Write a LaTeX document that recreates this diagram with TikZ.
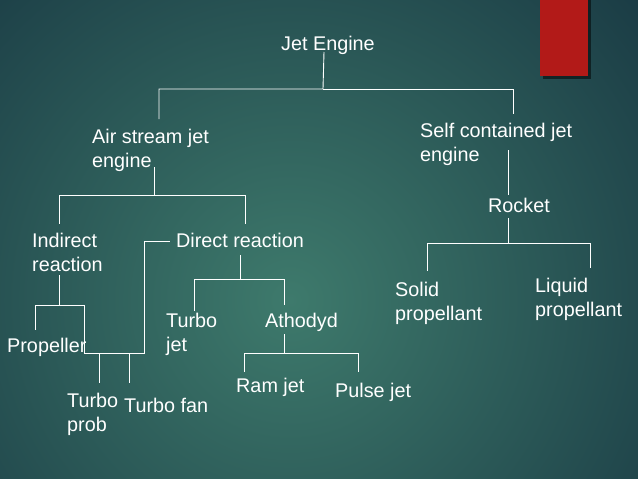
\documentclass[tikz,border=0pt]{standalone}
\usepackage{fontspec}
\setmainfont{Liberation Sans}
\definecolor{bgin}{RGB}{62,122,108}
\definecolor{bgout}{RGB}{22,52,64}
\definecolor{redbar}{RGB}{178,26,24}
\begin{document}
\begin{tikzpicture}[x=1pt,y=-1pt,
  lbl/.style={text=white,font=\fontsize{19.8}{24}\selectfont,inner sep=0pt,align=left,anchor=base west},
  conn/.style={draw=white,line width=0.9pt}]
\useasboundingbox (0,0) rectangle (638,479);
\begin{scope}
\clip (0,0) rectangle (638,479);
\shade[inner color=bgin,outer color=bgout] (290,300) circle (520);
\end{scope}
\fill[black,opacity=0.5] (543,0) rectangle (591,79);
\fill[redbar] (540,0) rectangle (588,76);
% labels
\node[lbl,anchor=base] (je) at (328,50) {Jet Engine};
\node[lbl] (air) at (92,167) {Air stream jet\\engine};
\node[lbl] (self) at (420,161) {Self contained jet\\engine};
\node[lbl,anchor=base] (rock) at (519,212) {Rocket};
\node[lbl] (ind) at (32,271) {Indirect\\reaction};
\node[lbl] (dir) at (176,247) {Direct reaction};
\node[lbl] (tj) at (166,351) {Turbo\\jet};
\node[lbl] (ath) at (265,327) {Athodyd};
\node[lbl] (prop) at (7,352) {Propeller};
\node[lbl] (tp) at (67,431) {Turbo\\prob};
\node[lbl] (tf) at (124,412) {Turbo fan};
\node[lbl] (ram) at (236,392) {Ram jet};
\node[lbl] (pulse) at (335,397) {Pulse jet};
\node[lbl] (solid) at (395,320) {Solid\\propellant};
\node[lbl] (liq) at (535,316) {Liquid\\propellant};
% connectors
\coordinate (je1) at (324,52); \coordinate (airT) at (159,119); \coordinate (selfT) at (513,114);
\draw[conn] (je1) -- (323,89) -| (airT);
\draw[conn] (323,89) -| (selfT);
\coordinate (air1) at (154,167); \coordinate (indT) at (59,224); \coordinate (dirT) at (245,224);
\draw[conn] (air1) -- (154,195) -| (indT);
\draw[conn] (154,195) -| (dirT);
\coordinate (self1) at (508,150); \coordinate (rockT) at (508,195);
\draw[conn] (self1) -- (rockT);
\coordinate (rock1) at (508,218); \coordinate (solT) at (427,271); \coordinate (liqT) at (590,268);
\draw[conn] (rock1) -- (508,243) -| (solT);
\draw[conn] (508,243) -| (liqT);
\coordinate (ind1) at (59,275); \coordinate (propT) at (35,330); \coordinate (dirL) at (170,241);
\draw[conn] (ind1) -- (59,305) -| (propT);
\draw[conn] (59,305) -| (84,353) -- (144,353) |- (dirL);
\coordinate (tpT) at (99,383); \coordinate (tfT) at (129,383);
\draw[conn] (99,353) -- (tpT);
\draw[conn] (129,353) -- (tfT);
\coordinate (dir1) at (240,255); \coordinate (tjT) at (194,311); \coordinate (athT) at (284,305);
\draw[conn] (dir1) -- (240,279) -| (tjT);
\draw[conn] (240,279) -| (athT);
\coordinate (ath1) at (284,334); \coordinate (ramT) at (244,372); \coordinate (pulT) at (358,372);
\draw[conn] (ath1) -- (284,353) -| (ramT);
\draw[conn] (284,353) -| (pulT);
\end{tikzpicture}
\end{document}
